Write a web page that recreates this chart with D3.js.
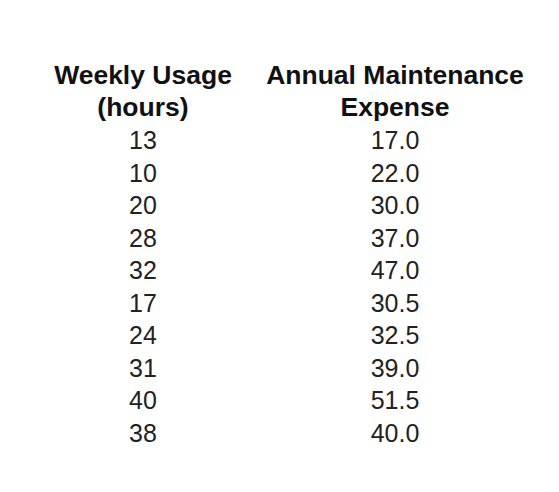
<!DOCTYPE html>
<html><head><meta charset="utf-8">
<script src="https://cdn.jsdelivr.net/npm/d3@7"></script>
<style>body{margin:0;background:#fff}</style>
</head><body>
<script>
// table data
var usage = [13, 10, 20, 28, 32, 17, 24, 31, 40, 38];
var expense = [17.0, 22.0, 30.0, 37.0, 47.0, 30.5, 32.5, 39.0, 51.5, 40.0];
var headers = [["Weekly Usage", "(hours)"], ["Annual Maintenance", "Expense"]];

var svg = d3.select("body").append("svg")
    .attr("width", 559).attr("height", 492)
    .style("font-family", "'Liberation Sans', Arial, sans-serif");

var colX = [143, 395];
var y = d3.scaleLinear().domain([0, 9]).range([149, 442]);

headers.forEach(function(h, c){
    h.forEach(function(line, i){
        svg.append("text")
            .attr("x", colX[c]).attr("y", 84 + i * 32)
            .attr("text-anchor", "middle")
            .attr("font-size", 26.5).attr("font-weight", "bold")
            .attr("fill", "#111")
            .text(line);
    });
});

var cols = [usage.map(String), expense.map(function(d){ return d.toFixed(1); })];
cols.forEach(function(vals, c){
    svg.selectAll(".c" + c).data(vals).enter().append("text")
        .attr("x", colX[c])
        .attr("y", function(d, i){ return y(i); })
        .attr("text-anchor", "middle")
        .attr("font-size", 25)
        .attr("fill", "#222")
        .text(function(d){ return d; });
});
</script>
</body></html>
